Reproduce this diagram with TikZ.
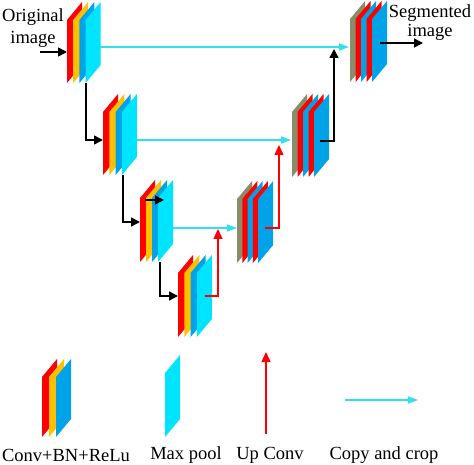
\documentclass[tikz,border=0pt]{standalone}
\usepackage{fontspec}
\setmainfont{Liberation Serif}
\usetikzlibrary{arrows.meta}

\definecolor{convred}{HTML}{FF0000}
\definecolor{bnorange}{HTML}{FFC000}
\definecolor{relublue}{HTML}{00A2E8}
\definecolor{poolcyan}{HTML}{00E5FF}
\definecolor{catolive}{HTML}{8A8D6C}
\definecolor{copycyan}{HTML}{30E0F0}

% one feature map: x of left edge, top and bottom of left edge, colour
\newcommand{\fmap}[4]{\fill[#4] (#1,#2) -- ++(15,-18) -- ++(0,#3-#2) -- (#1,#3) -- cycle;}

\tikzset{
  poolline/.style={draw=black, line width=1.6pt, -{Triangle[length=9pt,width=9pt]}},
  copyline/.style={draw=copycyan, line width=1.6pt, -{Triangle[length=10pt,width=7pt]}},
  upline/.style={draw=convred, line width=1.4pt, -{Triangle[length=10pt,width=9pt]}},
  label/.style={inner sep=0pt}
}

\begin{document}
\begin{tikzpicture}[x=1pt, y=-1pt, font=\fontsize{18.5}{20}\selectfont]
    \useasboundingbox (0,0) rectangle (474,465);

    % Encoder blocks
    \foreach \c [count=\i from 0] in {convred,bnorange,relublue,poolcyan}
        {\fmap{67+6.2*\i}{20}{83}{\c}}
    \foreach \c [count=\i from 0] in {convred,bnorange,relublue,poolcyan}
        {\fmap{103+6.3*\i}{112}{175}{\c}}
    \foreach \c [count=\i from 0] in {convred,bnorange,relublue,poolcyan}
        {\fmap{140+6*\i}{198}{262}{\c}}
    \foreach \c [count=\i from 0] in {convred,bnorange,relublue,poolcyan}
        {\fmap{178+6.3*\i}{273}{337}{\c}}

    % Decoder blocks
    \foreach \c [count=\i from 0] in {catolive,convred,relublue,convred,relublue}
        {\fmap{237+5.3*\i}{199}{263}{\c}}
    \foreach \c [count=\i from 0] in {catolive,convred,relublue,convred,relublue}
        {\fmap{292+5.5*\i}{112}{177}{\c}}
    \foreach \c [count=\i from 0] in {catolive,convred,relublue,convred,relublue}
        {\fmap{350+5.5*\i}{19}{82}{\c}}

    % Texte entree / sortie
    \node[label] (orig) at (33,17) {Original};
    \node[label] (origimg) at (33,39) {image};
    \node[label] (segm) at (430,13) {Segmented};
    \node[label] (segmimg) at (430,32) {image};

    % Points d'accroche
    \coordinate (in) at (40,52);
    \coordinate (e1in) at (67,52);
    \coordinate (e1c) at (100,47);
    \coordinate (d1c) at (349,47);
    \coordinate (e2c) at (137,140);
    \coordinate (d2c) at (291,140);
    \coordinate (e3c) at (173,228);
    \coordinate (d3c) at (237,228);
    \coordinate (e1b) at (86,83);
    \coordinate (e2in) at (103,140);
    \coordinate (e2b) at (123,175);
    \coordinate (e3in) at (140,222);
    \coordinate (e3b) at (160,262);
    \coordinate (e4in) at (178,296);
    \coordinate (e3m) at (145,200);
    \coordinate (e3n) at (164,200);
    \coordinate (e4u) at (205,296);
    \coordinate (d3u) at (218,229);
    \coordinate (d3o) at (265,228);
    \coordinate (d2u) at (279,145);
    \coordinate (d2o) at (320,141);
    \coordinate (d1u) at (334,49);
    \coordinate (d1o) at (380,43);
    \coordinate (out) at (423,43);

    % Fleches
    \draw[poolline] (in) -- (e1in);
    \draw[copyline] (e1c) -- (d1c);
    \draw[copyline] (e2c) -- (d2c);
    \draw[copyline] (e3c) -- (d3c);
    \draw[poolline] (e1b) |- (e2in);
    \draw[poolline] (e2b) |- (e3in);
    \draw[poolline] (e3b) |- (e4in);
    \draw[poolline] (e3m) -- (e3n);
    \draw[upline] (e4u) -| (d3u);
    \draw[upline] (d3o) -| (d2u);
    \draw[poolline] (d2o) -| (d1u);
    \draw[poolline] (d1o) -- (out);

    % Legende
    \fmap{42}{377}{437}{convred}
    \fmap{49}{377}{437}{bnorange}
    \fmap{56}{377}{437}{relublue}
    \fmap{165}{373}{437}{poolcyan}
    \coordinate (lu0) at (266,434);
    \coordinate (lu1) at (266,352);
    \draw[upline] (lu0) -- (lu1);
    \coordinate (lc0) at (345,400);
    \coordinate (lc1) at (418,400);
    \draw[copyline] (lc0) -- (lc1);
    \node[label] (lconv) at (66,455) {Conv+BN+ReLu};
    \node[label] (lpool) at (186,455) {Max pool};
    \node[label] (lup) at (270,455) {Up Conv};
    \node[label] (lcopy) at (384,455) {Copy and crop};
\end{tikzpicture}
\end{document}
